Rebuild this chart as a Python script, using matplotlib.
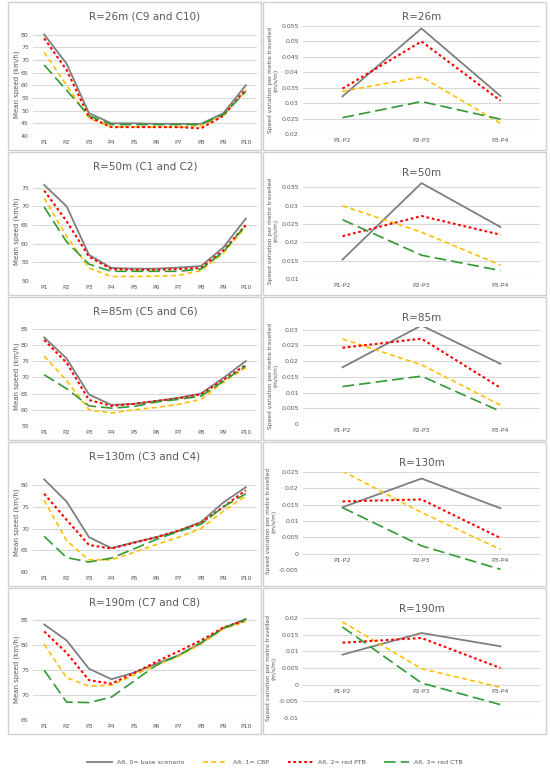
import matplotlib
matplotlib.use("Agg")
import matplotlib.pyplot as plt
from matplotlib.patches import Rectangle
from matplotlib.ticker import FixedLocator, FuncFormatter

pts = ["P1","P2","P3","P4","P5","P6","P7","P8","P9","P10"]
segs = ["P1-P2","P2-P3","P3-P4"]
series_names = ["Alt. 0= base scenario","Alt. 1= CBP","Alt. 2= red PTB","Alt. 3= red CTB"]

left_titles = ["R=26m (C9 and C10)","R=50m (C1 and C2)","R=85m (C5 and C6)","R=130m (C3 and C4)","R=190m (C7 and C8)"]
right_titles = ["R=26m","R=50m","R=85m","R=130m","R=190m"]

speed_26 = [[80,68.5,49,45,45,44.8,44.8,44.8,49,60],
            [73,60,47,43.5,43.5,43.5,43.5,44,48,58],
            [78.5,66,47.5,43.5,43.5,43.5,43.5,43,48,58.5],
            [68,58,48,44.5,44.5,44.5,44.5,44.5,48.5,57.5]]
speed_50 = [[75.7,70,57,53.5,53.3,53.3,53.6,54,59,66.7],
            [72.2,62,53.5,51.2,51.2,51.3,51.5,52.8,57.5,64.5],
            [74.2,66,56.5,53.2,53,53,53.2,53.5,58.2,65],
            [69.8,60.5,54.5,52.6,52.6,52.6,52.6,53.2,57.8,65]]
speed_85 = [[82.3,75.8,64.7,61.5,61.8,62.7,63.7,65,69.8,75],
            [76.5,69,60,59,60,60.7,61.7,63.2,68.5,73],
            [81.5,74.5,63,61.2,61.8,62.7,63.5,64.8,69.2,73.8],
            [70.8,66.5,61.2,60.5,61,62.4,63.2,64.2,68.8,73.5]]
speed_130 = [[81.3,76.2,68,65.5,66.8,68,69.5,71.5,76,79.5],
             [76.5,67.2,62.8,62.8,64.5,66.3,68,70,74,77.5],
             [78,72,66.2,65.4,66.7,68,69.5,71.3,75,78.8],
             [68.2,63.3,62.3,63.2,65.3,67.5,69.3,71,75,78]]
speed_190 = [[84.2,81,75.3,73.2,74.5,76.3,78,80.5,83.5,85.3],
             [80.2,73.5,71.8,72,74,76,77.8,80.3,83.3,84.8],
             [82.8,78.5,73,72.3,74.4,76.7,78.8,81,83.6,85],
             [75,68.6,68.5,69.6,72.8,76,78,80.5,83.4,85.2]]
var_26 = [[0.0322,0.0542,0.0323],[0.0338,0.0385,0.0235],[0.0347,0.050,0.0308],[0.0253,0.0305,0.0248]]
var_50 = [[0.0153,0.0362,0.0242],[0.030,0.0228,0.0138],[0.0217,0.0272,0.0221],[0.0262,0.0165,0.0123]]
var_85 = [[0.018,0.0313,0.0191],[0.027,0.0188,0.006],[0.0242,0.0271,0.0115],[0.0119,0.0152,0.004]]
var_130 = [[0.0142,0.023,0.0139],[0.0253,0.0126,0.0013],[0.016,0.0166,0.0048],[0.0141,0.0024,-0.0048]]
var_190 = [[0.009,0.0155,0.0115],[0.0188,0.0048,-0.0008],[0.0126,0.014,0.005],[0.0173,0.0005,-0.006]]

speeds = [speed_26,speed_50,speed_85,speed_130,speed_190]
variations = [var_26,var_50,var_85,var_130,var_190]

left_ylims = [(40,80,5),(50,75,5),(55,85,5),(60,80,5),(65,85,5)]
right_ylims = [(0.02,0.055,0.005),(0.01,0.035,0.005),(0,0.03,0.005),(-0.005,0.025,0.005),(-0.01,0.02,0.005)]
left_top_pad = [1,1.5,0.5,3,0.5]
right_top_pad = [0,0.0015,0.0008,0,0]

styles = [dict(color="#7f7f7f", ls="-", lw=1.3),
          dict(color="#FFC000", ls=(0,(3,2)), lw=1.2),
          dict(color="#FF0000", ls=(0,(1.3,1.3)), lw=1.5),
          dict(color="#339933", ls=(0,(7,3)), lw=1.2)]

W, H = 550, 771
fig = plt.figure(figsize=(5.5,7.71), dpi=100)
row_tops = [2,152,297,442,588]
row_bots = [150,295,440,586,734]
grid_c = "#d9d9d9"; txt_c = "#595959"
gfmt = FuncFormatter(lambda v, p: ("%g" % round(v, 6)))

def fr(x0,y0,x1,y1):
    return [x0/W, 1-y1/H, (x1-x0)/W, (y1-y0)/H]

def setup(ax, lo, hi, st, pad):
    ticks = [round(lo+i*st,6) for i in range(int(round((hi-lo)/st))+1)]
    ax.set_ylim(lo, hi+pad)
    ax.yaxis.set_major_locator(FixedLocator(ticks))
    ax.yaxis.set_major_formatter(gfmt)
    ax.grid(axis="y", color=grid_c, lw=0.8)
    ax.set_axisbelow(True)
    for s in ax.spines.values(): s.set_visible(False)
    ax.tick_params(length=0, labelsize=4.5, labelcolor=txt_c, pad=3)

for r in range(5):
    t, b = row_tops[r], row_bots[r]
    fig.patches.append(Rectangle((8/W,1-b/H),(261-8)/W,(b-t)/H, transform=fig.transFigure, fill=False, ec="#d0d0d0", lw=1))
    fig.patches.append(Rectangle((263/W,1-b/H),(546-263)/W,(b-t)/H, transform=fig.transFigure, fill=False, ec="#d0d0d0", lw=1))
    ax = fig.add_axes(fr(33, t+30, 257, b-14))
    lo, hi, st = left_ylims[r]
    setup(ax, lo, hi, st, left_top_pad[r])
    for k in range(4):
        ax.plot(pts, speeds[r][k], **styles[k], label=series_names[k])
    ax.set_xlim(-0.5, 9.5)
    ax.set_ylabel("Mean speed (km/h)", fontsize=5, color=txt_c, labelpad=1)
    ax.set_title(left_titles[r], fontsize=7.5, color=txt_c, pad=9)
    top_off = 24 if r == 0 else 30
    ax2 = fig.add_axes(fr(303, t+top_off, 540, b-16))
    lo, hi, st = right_ylims[r]
    setup(ax2, lo, hi, st, right_top_pad[r])
    for k in range(4):
        ax2.plot(segs, variations[r][k], **styles[k])
    ax2.set_xlim(-0.5, 2.5)
    if lo < 0:
        ax2.spines["bottom"].set_position(("data", 0))
    ax2.set_ylabel("Speed variation per metre travelled\n(m/s/m)", fontsize=4.2, color=txt_c, labelpad=2)
    ax2.set_title(right_titles[r], fontsize=7.5, color=txt_c, pad=4)

h, l = ax.get_legend_handles_labels()
fig.legend(h, l, loc="center", bbox_to_anchor=(0.5, 1-762/H), ncol=4, frameon=False,
           fontsize=4.5, labelcolor=txt_c, handlelength=4, columnspacing=3)
fig.savefig("out.png", dpi=100)
